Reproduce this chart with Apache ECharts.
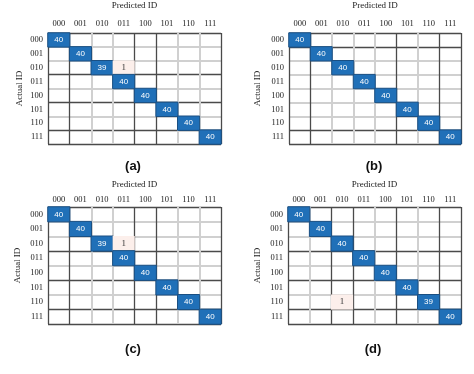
<!DOCTYPE html>
<html><head><meta charset="utf-8">
<script src="https://cdn.jsdelivr.net/npm/echarts@6/dist/echarts.min.js"></script>
<style>html,body{margin:0;padding:0;background:#fff}#c{width:474px;height:374px}</style>
</head><body><div id="c"></div>
<script>
const ids = ['000','001','010','011','100','101','110','111'];
const panelLabels = ['(a)','(b)','(c)','(d)'];
const xAxisName = 'Predicted ID';
const yAxisName = 'Actual ID';
// non-zero confusion entries: [actualIndex, predictedIndex, count]
const cellsA = [[0,0,40],[1,1,40],[2,2,39],[2,3,1],[3,3,40],[4,4,40],[5,5,40],[6,6,40],[7,7,40]];
const cellsB = [[0,0,40],[1,1,40],[2,2,40],[3,3,40],[4,4,40],[5,5,40],[6,6,40],[7,7,40]];
const cellsC = [[0,0,40],[1,1,40],[2,2,39],[2,3,1],[3,3,40],[4,4,40],[5,5,40],[6,6,40],[7,7,40]];
const cellsD = [[0,0,40],[1,1,40],[2,2,40],[3,3,40],[4,4,40],[5,5,40],[6,6,39],[6,2,1],[7,7,40]];
const panelCells = [cellsA, cellsB, cellsC, cellsD];

// grid line styles (D = dark, L = light), boundaries left->right / top->bottom
const vLines = [
  ['D','D','L','L','D','D','L','L','D'],
  ['D','D','L','L','L','D','L','D','D'],
  ['D','D','L','L','D','D','L','L','D'],
  ['D','L','D','D','L','D','L','D','D']
];
const hLines = [
  ['D','L','L','D','L','D','L','D','D'],
  ['D','D','L','L','L','L','L','D','D'],
  ['D','L','L','D','L','D','L','D','D'],
  ['D','L','L','D','L','D','L','D','D']
];
const rects = [
  {left:48, top:28, width:173, height:116},
  {left:289, top:28, width:172, height:116},
  {left:48, top:207, width:173, height:117},
  {left:288, top:207, width:173, height:117}
];
const labelPos = [[133,166],[374,166],[133,349],[373,349]];
const yNameGap = [24, 27, 26, 26];
const xNameGap = [23, 23, 18, 18];
const xLabelMargin = [5, 5, 3, 3];

const DARK = '#4a4a4a', LIGHT = '#d0d0d0', NONE = 'rgba(0,0,0,0)';
const serif = 'Liberation Serif';

const grid = [], xAxis = [], yAxis = [], series = [], graphic = [];
rects.forEach((r, i) => {
  grid.push(Object.assign({containLabel:false}, r));
  const darkV = vLines[i].map(t => t === 'D' ? DARK : NONE);
  const lightV = vLines[i].map(t => t === 'L' ? LIGHT : NONE);
  const darkH = hLines[i].map(t => t === 'D' ? DARK : NONE);
  const lightH = hLines[i].map(t => t === 'L' ? LIGHT : NONE);
  xAxis.push({
    type:'category', data:ids, gridIndex:i, position:'top',
    name:xAxisName, nameLocation:'middle', nameGap:xNameGap[i],
    nameTextStyle:{fontFamily:serif, fontSize:9, color:'#222'},
    axisLine:{show:false}, axisTick:{show:false},
    axisLabel:{fontFamily:serif, fontSize:8.5, color:'#222', margin:xLabelMargin[i], interval:0},
    splitLine:{show:true, interval:0, lineStyle:{color:darkV, width:1.3}}
  });
  xAxis.push({
    type:'category', data:ids, gridIndex:i, position:'bottom',
    axisLine:{show:false}, axisTick:{show:false}, axisLabel:{show:false},
    splitLine:{show:true, interval:0, lineStyle:{color:lightV, width:2}}
  });
  yAxis.push({
    type:'category', data:ids, gridIndex:i, inverse:true, position:'left',
    name:yAxisName, nameLocation:'middle', nameGap:yNameGap[i], nameRotate:90,
    nameTextStyle:{fontFamily:serif, fontSize:9, color:'#222'},
    axisLine:{show:false}, axisTick:{show:false},
    axisLabel:{fontFamily:serif, fontSize:8.5, color:'#222', margin:5, interval:0},
    splitLine:{show:true, interval:0, lineStyle:{color:darkH, width:1.3}}
  });
  yAxis.push({
    type:'category', data:ids, gridIndex:i, inverse:true, position:'right',
    axisLine:{show:false}, axisTick:{show:false}, axisLabel:{show:false},
    splitLine:{show:true, interval:0, lineStyle:{color:lightH, width:2}}
  });
  series.push({
    type:'heatmap', xAxisIndex:2*i, yAxisIndex:2*i,
    data: panelCells[i].map(c => {
      const big = c[2] >= 20;
      return {
        value:[c[1], c[0], c[2]],
        itemStyle: big ? {color:'#2070b8', borderColor:'#1a4f82', borderWidth:1}
                       : {color:'#fcefeb', borderWidth:0},
        label: big ? {color:'#fff', fontFamily:'Liberation Sans', fontSize:8}
                   : {color:'#333', fontFamily:serif, fontSize:9}
      };
    }),
    label:{show:true, formatter: p => String(p.value[2])}
  });
  graphic.push({
    type:'text', x:labelPos[i][0], y:labelPos[i][1],
    style:{text:panelLabels[i], font:'bold 13px "Liberation Sans"', fill:'#111',
           textAlign:'center', textVerticalAlign:'middle'}
  });
});

const chart = echarts.init(document.getElementById('c'), null, {renderer:'canvas'});
chart.setOption({backgroundColor:'#fff', animation:false, grid, xAxis, yAxis, series, graphic});
</script></body></html>
